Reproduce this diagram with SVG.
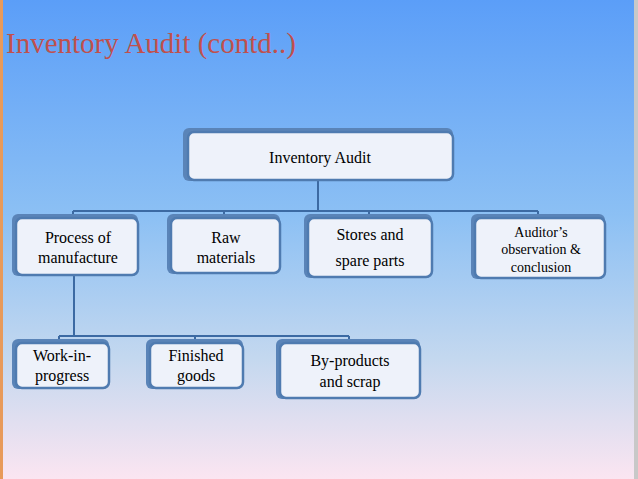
<svg xmlns="http://www.w3.org/2000/svg" width="638" height="479" viewBox="0 0 638 479">
<defs>
<linearGradient id="bg" x1="0" y1="0" x2="0" y2="1">
<stop offset="0" stop-color="#5b9ef8"/>
<stop offset="0.45" stop-color="#8cc0f4"/>
<stop offset="0.75" stop-color="#c4d8ef"/>
<stop offset="1" stop-color="#fbe5f1"/>
</linearGradient>
</defs>
<style>
.box{fill:#eef2fa;stroke:#4f7bb0;stroke-width:2.5}
.sh{fill:#5a84b8}
.t{font-size:16px;fill:#000;text-anchor:middle}
.s{font-size:14px}
.c{stroke:#3c6aa3;stroke-width:2;fill:none}
</style>
<rect width="638" height="479" fill="url(#bg)"/>
<rect x="0" y="0" width="3" height="479" fill="#e89a5a"/>
<rect x="634" y="0" width="4" height="479" fill="#c8c8c8"/>
<text x="6" y="53" font-family="'Liberation Serif', 'Times New Roman', 'DejaVu Serif', serif" font-size="29" fill="#c0504d">Inventory Audit (contd..)</text>
<g id="connectors" class="c">
<path d="M318 180V211M73 211H538M73 211V216M224 211V216M369 211V216M538 211V216"/>
<path d="M74 275V336M59 336H349M59 336V341M195 336V341M349 336V341"/>
</g>
<g font-family="'Liberation Serif', 'Times New Roman', 'DejaVu Serif', serif">
<g id="n-root"><rect class="sh" x="183" y="128" width="270" height="53" rx="6"/><rect class="box" x="188" y="132" width="265" height="48" rx="6"/><text class="t" x="320" y="163">Inventory Audit</text></g>
<g id="n-process"><rect class="sh" x="12" y="214" width="126" height="62" rx="6"/><rect class="box" x="16" y="218" width="122" height="57" rx="6"/><text class="t" x="78" y="243">Process of</text><text class="t" x="78" y="263">manufacture</text></g>
<g id="n-raw"><rect class="sh" x="167" y="214" width="113" height="60" rx="6"/><rect class="box" x="171" y="218" width="109" height="55" rx="6"/><text class="t" x="226" y="243">Raw</text><text class="t" x="226" y="263">materials</text></g>
<g id="n-stores"><rect class="sh" x="304" y="214" width="128" height="64" rx="6"/><rect class="box" x="308" y="218" width="124" height="59" rx="6"/><text class="t" x="370" y="240">Stores and</text><text class="t" x="370" y="266">spare parts</text></g>
<g id="n-auditor"><rect class="sh" x="471" y="214" width="134" height="65" rx="6"/><rect class="box" x="475" y="218" width="130" height="60" rx="6"/><text class="t s" x="541" y="237">Auditor’s</text><text class="t s" x="541" y="254">observation &amp;</text><text class="t s" x="541" y="272">conclusion</text></g>
<g id="n-wip"><rect class="sh" x="12" y="339" width="97" height="50" rx="6"/><rect class="box" x="16" y="343" width="93" height="45" rx="6"/><text class="t" x="62" y="361">Work-in-</text><text class="t" x="62" y="381">progress</text></g>
<g id="n-finished"><rect class="sh" x="146" y="339" width="97" height="50" rx="6"/><rect class="box" x="150" y="343" width="93" height="45" rx="6"/><text class="t" x="196" y="361">Finished</text><text class="t" x="196" y="381">goods</text></g>
<g id="n-byproducts"><rect class="sh" x="276" y="339" width="144" height="60" rx="6"/><rect class="box" x="280" y="343" width="140" height="55" rx="6"/><text class="t" x="350" y="366">By-products</text><text class="t" x="350" y="387">and scrap</text></g>
</g>
</svg>
